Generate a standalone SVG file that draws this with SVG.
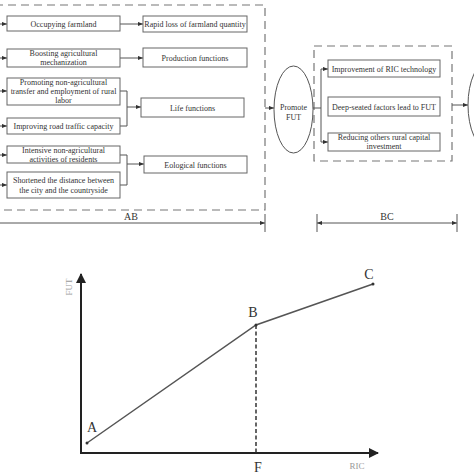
<svg xmlns="http://www.w3.org/2000/svg" width="474" height="474" viewBox="0 0 474 474">
<defs>
<style>
.box{fill:#fff;stroke:#666;stroke-width:1}
.dash{fill:none;stroke:#777;stroke-width:1.2;stroke-dasharray:8 5}
.ln{fill:none;stroke:#555;stroke-width:1}
.t{font-family:"Liberation Serif","Times New Roman",serif;font-size:8px;fill:#333;text-anchor:middle}
.dim{font-family:"Liberation Serif","Times New Roman",serif;font-size:10px;fill:#333;text-anchor:middle}
.lab{font-family:"Liberation Serif","Times New Roman",serif;font-size:14px;fill:#333;text-anchor:middle}
.ax{font-family:"Liberation Serif","Times New Roman",serif;font-size:9px;fill:#999;text-anchor:middle}
</style>
<marker id="ah" viewBox="0 0 6 6" refX="6" refY="3" markerWidth="5" markerHeight="5" orient="auto"><path d="M0,0.5 L6,3 L0,5.5 z" fill="#333"/></marker>
<marker id="ahs" viewBox="0 0 6 6" refX="0" refY="3" markerWidth="5" markerHeight="5" orient="auto"><path d="M6,0.5 L0,3 L6,5.5 z" fill="#333"/></marker>
<marker id="big" viewBox="0 0 10 10" refX="9" refY="5" markerWidth="5" markerHeight="5" orient="auto"><path d="M0,0 L10,5 L0,10 z" fill="#222"/></marker>
</defs>

<g id="frames">
<path class="dash" d="M-5,5 H265 V210 H-5"/>
<rect class="dash" x="314" y="46" width="138" height="115"/>
</g>

<g id="connectors">
<line class="ln" x1="0" y1="24" x2="7" y2="24" marker-end="url(#ah)"/>
<line class="ln" x1="0" y1="58" x2="7" y2="58" marker-end="url(#ah)"/>
<line class="ln" x1="0" y1="91" x2="7" y2="91" marker-end="url(#ah)"/>
<line class="ln" x1="0" y1="126" x2="7" y2="126" marker-end="url(#ah)"/>
<line class="ln" x1="0" y1="155" x2="7" y2="155" marker-end="url(#ah)"/>
<line class="ln" x1="0" y1="185" x2="7" y2="185" marker-end="url(#ah)"/>
<line class="ln" x1="120" y1="24" x2="143" y2="24" marker-end="url(#ah)"/>
<line class="ln" x1="120" y1="58" x2="143" y2="58" marker-end="url(#ah)"/>
<path class="ln" d="M120,91 H127 V126 H120"/>
<line class="ln" x1="127" y1="107" x2="141" y2="107" marker-end="url(#ah)"/>
<path class="ln" d="M120,155 H127 V185 H120"/>
<line class="ln" x1="127" y1="164" x2="144" y2="164" marker-end="url(#ah)"/>
<line class="ln" x1="265" y1="108" x2="274" y2="108" marker-end="url(#ah)"/>
<line class="ln" x1="313" y1="108" x2="321" y2="108"/>
<line class="ln" x1="321" y1="69" x2="321" y2="142"/>
<line class="ln" x1="321" y1="69" x2="328" y2="69" marker-end="url(#ah)"/>
<line class="ln" x1="321" y1="142" x2="328" y2="142" marker-end="url(#ah)"/>
<line class="ln" x1="452" y1="105" x2="468" y2="105" marker-end="url(#ah)"/>
<line class="ln" x1="0" y1="223" x2="265" y2="223" marker-end="url(#ah)"/>
<line class="ln" x1="265" y1="214" x2="265" y2="232"/>
<line class="ln" x1="317" y1="223" x2="457" y2="223" marker-start="url(#ahs)" marker-end="url(#ah)"/>
<line class="ln" x1="317" y1="214" x2="317" y2="232"/>
<line class="ln" x1="457" y1="214" x2="457" y2="232"/>
</g>

<text class="dim" x="131" y="220">AB</text>
<text class="dim" x="387" y="220">BC</text>

<g id="n1"><rect class="box" x="7" y="16" width="113" height="15"/><text class="t" x="63.5" y="26.5">Occupying farmland</text></g>
<g id="n2"><rect class="box" x="7" y="49" width="113" height="18"/><text class="t" x="63.5" y="56">Boosting agricultural</text><text class="t" x="63.5" y="65">mechanization</text></g>
<g id="n3"><rect class="box" x="7" y="78" width="113" height="27"/><text class="t" x="63.5" y="85">Promoting non-agricultural</text><text class="t" x="63.5" y="94">transfer and employment of rural</text><text class="t" x="63.5" y="103">labor</text></g>
<g id="n4"><rect class="box" x="7" y="118" width="113" height="16"/><text class="t" x="63.5" y="128.5">Improving road traffic capacity</text></g>
<g id="n5"><rect class="box" x="7" y="146" width="113" height="17"/><text class="t" x="63.5" y="153">Intensive non-agricultural</text><text class="t" x="63.5" y="162">activities of residents</text></g>
<g id="n6"><rect class="box" x="7" y="172" width="113" height="26"/><text class="t" x="63.5" y="183">Shortened the distance between</text><text class="t" x="63.5" y="193">the city and the countryside</text></g>

<g id="r1"><rect class="box" x="143" y="16" width="104" height="16"/><text class="t" x="195" y="27">Rapid loss of farmland quantity</text></g>
<g id="r2"><rect class="box" x="143" y="48" width="104" height="19"/><text class="t" x="195" y="60.5">Production functions</text></g>
<g id="r3"><rect class="box" x="141" y="98" width="103" height="19"/><text class="t" x="192.5" y="110.5">Life functions</text></g>
<g id="r4"><rect class="box" x="144" y="156" width="103" height="17"/><text class="t" x="195.5" y="167.5">Eological functions</text></g>

<g id="promote"><ellipse cx="293.5" cy="109.5" rx="19.5" ry="43.5" fill="#fff" stroke="#555" stroke-width="1"/><text class="t" x="293.5" y="110">Promote</text><text class="t" x="293.5" y="120">FUT</text></g>

<g id="b1"><rect class="box" x="328" y="60" width="112" height="17"/><text class="t" x="384" y="71.5">Improvement of RIC technology</text></g>
<g id="b2"><rect class="box" x="328" y="97" width="112" height="19"/><text class="t" x="384" y="109.5">Deep-seated factors lead to FUT</text></g>
<g id="b3"><rect class="box" x="328" y="133" width="112" height="18"/><text class="t" x="384" y="140">Reducing others rural capital</text><text class="t" x="384" y="149">investment</text></g>

<g id="rightEllipse"><ellipse cx="488" cy="105" rx="20" ry="43.5" fill="#fff" stroke="#555" stroke-width="1"/></g>

<g id="chart">
<line x1="81" y1="453" x2="81" y2="274" stroke="#222" stroke-width="2" marker-end="url(#big)"/>
<line x1="80" y1="453" x2="378" y2="453" stroke="#222" stroke-width="2" marker-end="url(#big)"/>
<line x1="256" y1="325" x2="256" y2="453" stroke="#333" stroke-width="1.5" stroke-dasharray="4 2.5"/>
<polyline points="87,443 256,325 373,284" fill="none" stroke="#555" stroke-width="1.5"/>
<circle cx="87" cy="443" r="1.5" fill="#333"/>
<circle cx="256" cy="325" r="1.5" fill="#333"/>
<circle cx="373" cy="284" r="1.5" fill="#333"/>
<text class="lab" x="92" y="432">A</text>
<text class="lab" x="253" y="317">B</text>
<text class="lab" x="369" y="279">C</text>
<text class="lab" x="258" y="472">F</text>
<text class="ax" x="357" y="469">RIC</text>
<text class="ax" transform="translate(72,287) rotate(-90)">FUT</text>
</g>
</svg>
